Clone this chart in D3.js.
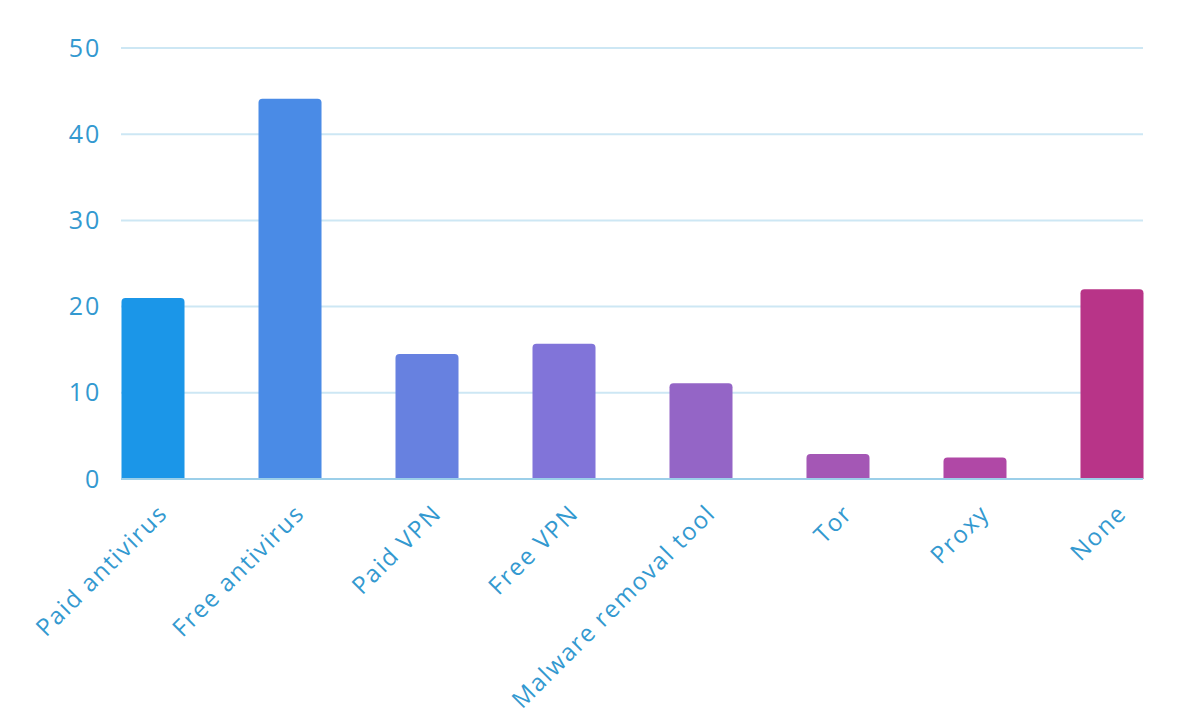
<!DOCTYPE html>
<html><head><meta charset="utf-8">
<script src="https://cdn.jsdelivr.net/npm/d3@7"></script>
<style>body{margin:0;background:#fff;} text{font-family:"Open Sans",sans-serif;}</style>
</head><body>
<svg id="chart" width="1200" height="720"></svg>
<script>
const categories = ["Paid antivirus","Free antivirus","Paid VPN","Free VPN","Malware removal tool","Tor","Proxy","None"];
const values = [21.0, 44.1, 14.5, 15.7, 11.1, 2.9, 2.5, 22.0];
const colors = ["#1b96e8","#4a8be6","#6781e0","#8174d9","#9465c6","#a457b5","#b048a6","#b83488"];
const yTicks = [0,10,20,30,40,50];

const svg = d3.select("#chart");
const x = d3.scaleBand().domain(categories).range([121.5,1143.5]).paddingInner(0.54).paddingOuter(0);
const y = d3.scaleLinear().domain([0,50]).range([479,48]);

svg.append("g").selectAll("line").data(yTicks.filter(d=>d>0)).join("line")
  .attr("x1",121).attr("x2",1143).attr("y1",d=>y(d)).attr("y2",d=>y(d))
  .attr("stroke","#cde7f4").attr("stroke-width",2);

svg.append("g").selectAll("path").data(values).join("path")
  .attr("fill",(d,i)=>colors[i])
  .attr("d",(d,i)=>{
    const x0=x(categories[i]), w=x.bandwidth(), y0=y(d), y1=y(0), r=4;
    return `M${x0},${y1}V${y0+r}Q${x0},${y0} ${x0+r},${y0}H${x0+w-r}Q${x0+w},${y0} ${x0+w},${y0+r}V${y1}Z`;
  });

svg.append("line").attr("x1",121).attr("x2",1143).attr("y1",y(0)).attr("y2",y(0))
  .attr("stroke","#9ccfe9").attr("stroke-width",2);

const yAxis = d3.axisLeft(y).tickValues(yTicks).tickSize(0).tickPadding(0);
const ga = svg.append("g").attr("transform","translate(101,0)").call(yAxis);
ga.select(".domain").remove();
ga.selectAll("text").attr("fill","#3399d0").style("font-size","25px").style("letter-spacing","1.8px")
  .style("font-family","'Open Sans', sans-serif");

svg.append("g").selectAll("text").data(categories).join("text")
  .attr("transform",d=>`translate(${x(d)+x.bandwidth()/2+4},${503}) rotate(-45)`)
  .attr("text-anchor","end").attr("dy","0.7em")
  .attr("fill","#3399d0").style("font-size","24px").style("letter-spacing","1.6px")
  .text(d=>d);
</script>
</body></html>
